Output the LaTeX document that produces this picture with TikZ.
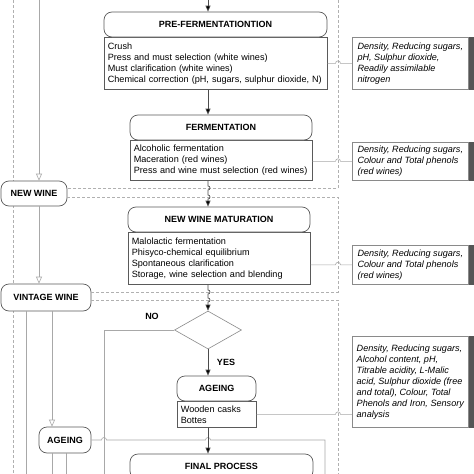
\documentclass[tikz,border=0pt]{standalone}
\usepackage{fontspec}
\setmainfont{Liberation Sans}
\usetikzlibrary{shapes.geometric,calc,arrows.meta}
\definecolor{boxline}{HTML}{5A5A5A}
\definecolor{infoline}{HTML}{8A8A8A}
\definecolor{conn}{HTML}{A8A8A8}
\definecolor{dashc}{HTML}{B0B0B0}
\definecolor{barc}{HTML}{555555}
\tikzset{
  head/.style={draw=boxline, line width=0.7pt, rounded corners=8pt, fill=white,
    minimum height=25pt, inner sep=0pt, font=\fontsize{9}{11}\selectfont\bfseries},
  body/.style={draw=boxline, line width=0.7pt, fill=white, inner xsep=3.5pt, inner ysep=2pt,
    align=left, anchor=north west, font=\fontsize{9.1}{11}\selectfont},
  lab/.style={draw=boxline, line width=0.7pt, rounded corners=8pt, fill=white,
    inner sep=0pt, font=\fontsize{9}{11}\selectfont\bfseries},
  info/.style={draw=infoline, line width=0.6pt, fill=white, minimum width=116pt,
    inner sep=3pt, align=left, anchor=north west, font=\fontsize{9.1}{11}\selectfont\itshape},
  dia/.style={diamond, draw=infoline, line width=0.6pt, fill=white, minimum width=67pt,
    minimum height=38pt, inner sep=0pt},
  marr/.style={draw=black!70, line width=0.7pt, -{Triangle[width=5pt,length=6pt,fill=black]}},
  garr/.style={draw=conn, line width=0.6pt, -{Triangle[open,width=6pt,length=7pt]}},
  gl/.style={draw=conn, line width=0.6pt},
  dsh/.style={draw=dashc, line width=0.6pt, dash pattern=on 3pt off 2pt},
  txt/.style={font=\fontsize{9}{11}\selectfont\bfseries, inner sep=0pt}
}
\newcommand{\oneline}[1]{\mbox{#1}}
\begin{document}
\begin{tikzpicture}[x=1pt,y=1pt]
\useasboundingbox (0,0) rectangle (474,-474);
\clip (0,0) rectangle (474,-474);
\fill[white] (0,0) rectangle (474,-474);
% reference coordinates
\coordinate (spine) at (208,0);
\coordinate (rl) at (338,0);
\coordinate (ll) at (13,0);
\coordinate (g1) at (39,0);
\coordinate (g2) at (26,0);
\coordinate (g3) at (52,0);
\coordinate (g4) at (66,0);
\coordinate (g5) at (104,0);
\coordinate (g6) at (325,0);
\coordinate (d1) at (0,-188);
\coordinate (d2) at (0,-197);
\coordinate (d3) at (0,-292);
\coordinate (d4) at (0,-300);
\coordinate (bot) at (0,-474);
% left dashed line
\draw[dsh] (ll) -- (ll |- bot);
% main column
\node[body, text width=216pt, minimum height=52pt] (prebody) at (104,-37)
  {\oneline{Crush}\\\oneline{Press and must selection (white wines)}\\\oneline{Must clarification (white wines)}\\\oneline{Chemical correction (pH, sugars, sulphur dioxide, N)}};
\node[head, minimum width=223pt] (prehead) at (215.5,-24.5) {PRE-FERMENTATIONTION};
\node[body, text width=175pt, minimum height=40pt] (fermbody) at (130,-140)
  {\oneline{Alcoholic fermentation}\\\oneline{Maceration (red wines)}\\\oneline{Press and wine must selection (red wines)}};
\node[head, minimum width=182pt] (fermhead) at (221,-127.5) {FERMENTATION};
\node[body, text width=175pt, minimum height=52pt] (nwmbody) at (128,-232)
  {\oneline{Malolactic fermentation}\\\oneline{Phisyco-chemical equilibrium}\\\oneline{Spontaneous clarification}\\\oneline{Storage, wine selection and blending}};
\node[head, minimum width=182pt] (nwmhead) at (219,-219.5) {NEW WINE MATURATION};
\node[dia] (dec) at (208,-330) {};
\node[body, text width=72pt, minimum height=26pt] (agebody) at (177,-401) {\oneline{Wooden casks}\\\oneline{Bottes}};
\node[head, minimum width=79pt] (agehead) at (216.5,-388.5) {AGEING};
\node[head, minimum width=183pt] (finhead) at (221.5,-466.5) {FINAL PROCESS};
\node[txt] (no) at (152,-316) {NO};
\node[txt] (yes) at (226,-362) {YES};
% left labels
\node[lab, minimum width=66pt, minimum height=25pt] (newwine) at (34,-193.5) {NEW WINE};
\node[lab, minimum width=90pt, minimum height=27pt] (vintage) at (46,-297.5) {VINTAGE WINE};
\node[lab, minimum width=52pt, minimum height=26pt] (ageL) at (65,-440) {AGEING};
% dashed region lines
\draw[dsh] (rl) -- (rl |- d1) -- (newwine.east |- d1);
\draw[dsh] (newwine.east |- d2) -- (rl |- d2) -- (rl |- d3) -- (vintage.east |- d3);
\draw[dsh] (vintage.east |- d4) -- (rl |- d4) -- (rl |- bot);
% info boxes
\node[info, minimum height=52pt] (info1) at (352,-37)
  {Density, Reducing sugars,\\pH, Sulphur dioxide,\\Readily assimilable\\nitrogen};
\node[info, minimum height=38pt] (info2) at (352,-142)
  {Density, Reducing sugars,\\Colour and Total phenols\\(red wines)};
\node[info, minimum height=39pt] (info3) at (352,-245)
  {Density, Reducing sugars,\\Colour and Total phenols\\(red wines)};
\node[info, minimum height=91pt] (info4) at (352,-336)
  {Density, Reducing sugars,\\Alcohol content, pH,\\Titrable acidity, L-Malic\\acid, Sulphur dioxide (free\\and total), Colour, Total\\Phenols and Iron, Sensory\\analysis};
\foreach \b in {info1,info2,info3,info4}
  \fill[barc] (\b.north east) rectangle ($(\b.south east)+(6,0)$);
% gray left lines
\draw[garr] (g1) -- (g1 |- newwine.north);
\draw[garr] (g1 |- newwine.south) -- (g1 |- vintage.north);
\draw[gl] (g2 |- vintage.south) -- (g2 |- bot);
\draw[garr] (g3 |- vintage.south) -- (g3 |- ageL.north);
\draw[gl] (g3 |- ageL.south) -- (g3 |- bot);
\draw[gl] (g4 |- ageL.south) -- (g4 |- bot);
\draw[gl] (dec.west) -- (g5 |- dec.west) -- (g5 |- bot);
\draw[gl] (ageL.east) -- ($(g5 |- ageL.east)+(-2.5,0)$) arc[start angle=180,end angle=0,radius=2.5]
  -- ($(spine |- ageL.east)+(-2.5,0)$) arc[start angle=180,end angle=0,radius=2.5]
  -- (g6 |- ageL.east) -- (g6 |- bot);
% connectors to info boxes
\draw[gl] (prebody.east) -- ($(rl |- prebody.east)+(-2.5,0)$) arc[start angle=180,end angle=0,radius=2.5] -- (info1.west |- prebody.east);
\draw[gl] (fermbody.east |- info2.west) -- ($(rl |- info2.west)+(-2.5,0)$) arc[start angle=180,end angle=0,radius=2.5] -- (info2.west);
\draw[gl] (nwmbody.east |- info3.west) -- ($(rl |- info3.west)+(-2.5,0)$) arc[start angle=180,end angle=0,radius=2.5] -- (info3.west);
\draw[gl] (agebody.east) -- ($(rl |- agebody.east)+(-2.5,0)$) arc[start angle=180,end angle=0,radius=2.5] -- (info4.west |- agebody.east);
% main arrows
\draw[marr] (spine) -- (spine |- prehead.north);
\draw[marr] (spine |- prebody.south) -- (spine |- fermhead.north);
\draw[marr] (spine |- fermbody.south) -- ($(spine |- d1)+(0,2)$) arc[start angle=90,end angle=-90,radius=2]
  -- ($(spine |- d2)+(0,2)$) arc[start angle=90,end angle=-90,radius=2] -- (spine |- nwmhead.north);
\draw[marr] (spine |- nwmbody.south) -- ($(spine |- d3)+(0,2)$) arc[start angle=90,end angle=-90,radius=2]
  -- ($(spine |- d4)+(0,2)$) arc[start angle=90,end angle=-90,radius=2] -- (dec.north);
\draw[marr] (dec.south) -- (spine |- agehead.north);
\draw[marr] (spine |- agebody.south) -- (spine |- finhead.north);
\end{tikzpicture}
\end{document}
